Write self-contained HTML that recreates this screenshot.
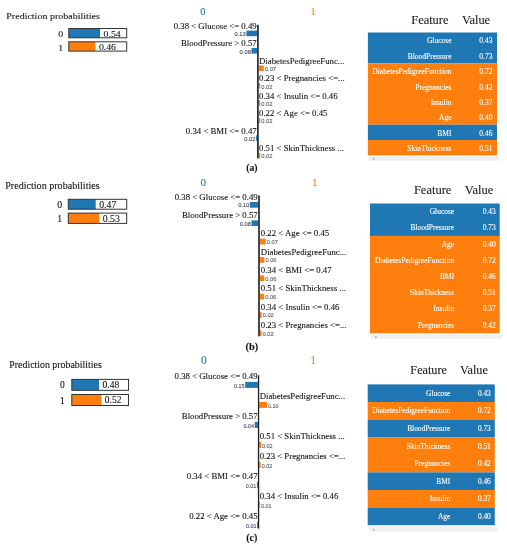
<!DOCTYPE html>
<html><head><meta charset="utf-8"><title>LIME explanations</title>
<style>
html,body{margin:0;padding:0;background:#fff;}
#c{position:relative;width:507px;height:550px;overflow:hidden;background:#fff;}
.t{position:absolute;white-space:pre;-webkit-text-stroke:0.1px currentColor;}
.r{position:absolute;}
.se{font-family:"Liberation Serif",serif;}
.sa{font-family:"Liberation Sans",sans-serif;}
</style></head><body><div id="c">
<svg width="507" height="550" viewBox="0 0 507 550" style="position:absolute;left:0;top:0">
<rect x="68.80" y="28.50" width="31.31" height="9.30" fill="#1f77b4"/>
<rect x="68.80" y="28.50" width="57.90" height="9.30" fill="none" stroke="#333" stroke-width="1"/>
<rect x="68.80" y="41.80" width="26.59" height="9.30" fill="#ff7f0e"/>
<rect x="68.80" y="41.80" width="57.90" height="9.30" fill="none" stroke="#333" stroke-width="1"/>
<rect x="246.40" y="30.60" width="10.70" height="5.60" fill="#1f77b4"/>
<rect x="251.50" y="48.04" width="5.60" height="5.60" fill="#1f77b4"/>
<rect x="258.70" y="65.48" width="5.10" height="5.60" fill="#ff7f0e"/>
<rect x="258.70" y="82.92" width="1.50" height="5.60" fill="#ff7f0e"/>
<rect x="258.70" y="100.36" width="1.50" height="5.60" fill="#ff7f0e"/>
<rect x="258.70" y="117.80" width="1.50" height="5.60" fill="#ff7f0e"/>
<rect x="256.10" y="135.24" width="1.00" height="5.60" fill="#1f77b4"/>
<rect x="258.70" y="152.68" width="1.50" height="5.60" fill="#ff7f0e"/>
<rect x="257.10" y="24.80" width="1.60" height="133.60" fill="#1c1c1c"/>
<rect x="368.70" y="156.60" width="130.50" height="4.20" fill="#efefef"/>
<rect x="367.90" y="32.50" width="129.10" height="30.73" fill="#1f77b4"/>
<rect x="367.90" y="63.23" width="129.10" height="61.45" fill="#ff7f0e"/>
<rect x="367.90" y="124.68" width="129.10" height="15.36" fill="#1f77b4"/>
<rect x="367.90" y="140.04" width="129.10" height="15.36" fill="#ff7f0e"/>
<rect x="373.20" y="158.40" width="1.20" height="1.30" fill="#888"/>
<rect x="68.30" y="199.30" width="27.42" height="9.90" fill="#1f77b4"/>
<rect x="68.30" y="199.30" width="58.40" height="9.90" fill="none" stroke="#333" stroke-width="1"/>
<rect x="68.30" y="213.10" width="30.98" height="10.30" fill="#ff7f0e"/>
<rect x="68.30" y="213.10" width="58.40" height="10.30" fill="none" stroke="#333" stroke-width="1"/>
<rect x="249.80" y="202.00" width="8.40" height="5.70" fill="#1f77b4"/>
<rect x="251.50" y="220.36" width="6.70" height="5.70" fill="#1f77b4"/>
<rect x="259.80" y="238.72" width="6.00" height="5.70" fill="#ff7f0e"/>
<rect x="259.80" y="257.08" width="4.60" height="5.70" fill="#ff7f0e"/>
<rect x="259.80" y="275.44" width="4.50" height="5.70" fill="#ff7f0e"/>
<rect x="259.80" y="293.80" width="4.40" height="5.70" fill="#ff7f0e"/>
<rect x="259.80" y="312.16" width="1.90" height="5.70" fill="#ff7f0e"/>
<rect x="259.80" y="330.52" width="1.70" height="5.70" fill="#ff7f0e"/>
<rect x="258.20" y="195.40" width="1.60" height="140.90" fill="#1c1c1c"/>
<rect x="370.80" y="334.60" width="131.10" height="4.20" fill="#efefef"/>
<rect x="370.00" y="203.50" width="129.70" height="32.45" fill="#1f77b4"/>
<rect x="370.00" y="235.95" width="129.70" height="97.35" fill="#ff7f0e"/>
<rect x="375.30" y="336.40" width="1.20" height="1.30" fill="#888"/>
<rect x="71.80" y="379.40" width="27.20" height="10.90" fill="#1f77b4"/>
<rect x="71.80" y="379.40" width="56.70" height="10.90" fill="none" stroke="#333" stroke-width="1"/>
<rect x="71.80" y="394.50" width="29.50" height="11.00" fill="#ff7f0e"/>
<rect x="71.80" y="394.50" width="56.70" height="11.00" fill="none" stroke="#333" stroke-width="1"/>
<rect x="245.20" y="381.90" width="12.70" height="6.00" fill="#1f77b4"/>
<rect x="259.20" y="401.90" width="7.90" height="6.00" fill="#ff7f0e"/>
<rect x="254.70" y="421.90" width="3.20" height="6.00" fill="#1f77b4"/>
<rect x="259.20" y="441.90" width="1.90" height="6.00" fill="#ff7f0e"/>
<rect x="259.20" y="461.90" width="1.50" height="6.00" fill="#ff7f0e"/>
<rect x="256.90" y="481.90" width="1.00" height="6.00" fill="#1f77b4"/>
<rect x="259.20" y="501.90" width="0.80" height="6.00" fill="#ff7f0e"/>
<rect x="257.10" y="521.90" width="0.80" height="6.00" fill="#1f77b4"/>
<rect x="257.90" y="375.30" width="1.30" height="153.30" fill="#1c1c1c"/>
<rect x="368.50" y="527.00" width="128.50" height="4.60" fill="#efefef"/>
<rect x="367.70" y="384.40" width="127.10" height="17.60" fill="#1f77b4"/>
<rect x="367.70" y="402.00" width="127.10" height="17.60" fill="#ff7f0e"/>
<rect x="367.70" y="419.60" width="127.10" height="17.60" fill="#1f77b4"/>
<rect x="367.70" y="437.20" width="127.10" height="35.20" fill="#ff7f0e"/>
<rect x="367.70" y="472.40" width="127.10" height="17.60" fill="#1f77b4"/>
<rect x="367.70" y="490.00" width="127.10" height="17.60" fill="#ff7f0e"/>
<rect x="367.70" y="507.60" width="127.10" height="17.60" fill="#1f77b4"/>
<rect x="373.00" y="529.00" width="1.20" height="1.30" fill="#888"/>
</svg>
<div class="t se" style="top:9.60px;font-size:10px;line-height:12.00px;color:#111;font-weight:normal;left:6.30px;transform-origin:0 50%;transform:scale(1.0,0.89);">Prediction probabilities</div>
<div class="t se" style="top:27.72px;font-size:9.8px;line-height:11.76px;color:#111;font-weight:normal;left:-39.40px;width:200px;text-align:center;transform-origin:50% 50%;transform:scale(1.0,0.9);">0</div>
<div class="t se" style="top:27.77px;font-size:9.8px;line-height:11.76px;color:#111;font-weight:normal;left:103.61px;transform-origin:0 50%;transform:scale(1.0,0.9);">0.54</div>
<div class="t se" style="top:41.62px;font-size:9.8px;line-height:11.76px;color:#111;font-weight:normal;left:-39.40px;width:200px;text-align:center;transform-origin:50% 50%;transform:scale(1.0,0.9);">1</div>
<div class="t se" style="top:41.07px;font-size:9.8px;line-height:11.76px;color:#111;font-weight:normal;left:98.89px;transform-origin:0 50%;transform:scale(1.0,0.9);">0.46</div>
<div class="t se" style="top:6.00px;font-size:10.5px;line-height:12.60px;color:#1f77b4;font-weight:normal;left:102.90px;width:200px;text-align:center;transform-origin:50% 50%;transform:scale(1.0,0.9450000000000001);">0</div>
<div class="t se" style="top:6.00px;font-size:10.5px;line-height:12.60px;color:#ff7f0e;font-weight:normal;left:213.10px;width:200px;text-align:center;transform-origin:50% 50%;transform:scale(1.0,0.9450000000000001);">1</div>
<div class="t se" style="top:20.93px;font-size:8.78px;line-height:10.54px;color:#111;font-weight:normal;right:250.30px;transform-origin:100% 50%;transform:scale(1.0,0.9);">0.38 &lt; Glucose &lt;= 0.49</div>
<div class="t sa" style="top:31.22px;font-size:5.8px;line-height:6.96px;color:#3f4658;font-weight:normal;right:261.20px;transform-origin:100% 50%;transform:scale(1.0,0.98);">0.13</div>
<div class="t se" style="top:38.37px;font-size:8.78px;line-height:10.54px;color:#111;font-weight:normal;right:250.30px;transform-origin:100% 50%;transform:scale(1.0,0.9);">BloodPressure &gt; 0.57</div>
<div class="t sa" style="top:48.66px;font-size:5.8px;line-height:6.96px;color:#3f4658;font-weight:normal;right:256.10px;transform-origin:100% 50%;transform:scale(1.0,0.98);">0.08</div>
<div class="t se" style="top:55.81px;font-size:8.78px;line-height:10.54px;color:#111;font-weight:normal;left:259.00px;transform-origin:0 50%;transform:scale(1.0,0.9);">DiabetesPedigreeFunc...</div>
<div class="t sa" style="top:66.10px;font-size:5.8px;line-height:6.96px;color:#555a66;font-weight:normal;left:264.80px;transform-origin:0 50%;transform:scale(1.0,0.98);">0.07</div>
<div class="t se" style="top:73.25px;font-size:8.78px;line-height:10.54px;color:#111;font-weight:normal;left:259.00px;transform-origin:0 50%;transform:scale(1.0,0.9);">0.23 &lt; Pregnancies &lt;=...</div>
<div class="t sa" style="top:83.54px;font-size:5.8px;line-height:6.96px;color:#555a66;font-weight:normal;left:261.20px;transform-origin:0 50%;transform:scale(1.0,0.98);">0.02</div>
<div class="t se" style="top:90.69px;font-size:8.78px;line-height:10.54px;color:#111;font-weight:normal;left:259.00px;transform-origin:0 50%;transform:scale(1.0,0.9);">0.34 &lt; Insulin &lt;= 0.46</div>
<div class="t sa" style="top:100.98px;font-size:5.8px;line-height:6.96px;color:#555a66;font-weight:normal;left:261.20px;transform-origin:0 50%;transform:scale(1.0,0.98);">0.02</div>
<div class="t se" style="top:108.13px;font-size:8.78px;line-height:10.54px;color:#111;font-weight:normal;left:259.00px;transform-origin:0 50%;transform:scale(1.0,0.9);">0.22 &lt; Age &lt;= 0.45</div>
<div class="t sa" style="top:118.42px;font-size:5.8px;line-height:6.96px;color:#555a66;font-weight:normal;left:261.20px;transform-origin:0 50%;transform:scale(1.0,0.98);">0.02</div>
<div class="t se" style="top:125.57px;font-size:8.78px;line-height:10.54px;color:#111;font-weight:normal;right:250.30px;transform-origin:100% 50%;transform:scale(1.0,0.9);">0.34 &lt; BMI &lt;= 0.47</div>
<div class="t sa" style="top:135.86px;font-size:5.8px;line-height:6.96px;color:#3f4658;font-weight:normal;right:251.50px;transform-origin:100% 50%;transform:scale(1.0,0.98);">0.02</div>
<div class="t se" style="top:143.01px;font-size:8.78px;line-height:10.54px;color:#111;font-weight:normal;left:259.00px;transform-origin:0 50%;transform:scale(1.0,0.9);">0.51 &lt; SkinThickness ...</div>
<div class="t sa" style="top:153.30px;font-size:5.8px;line-height:6.96px;color:#555a66;font-weight:normal;left:261.20px;transform-origin:0 50%;transform:scale(1.0,0.98);">0.02</div>
<div class="t se" style="top:162.34px;font-size:9.6px;line-height:11.52px;color:#111;font-weight:bold;left:151.80px;width:200px;text-align:center;transform-origin:50% 50%;">(a)</div>
<div class="t se" style="top:12.56px;font-size:12.4px;line-height:14.88px;color:#1a1a1a;font-weight:normal;right:58.60px;transform-origin:100% 50%;">Feature</div>
<div class="t se" style="top:12.56px;font-size:12.4px;line-height:14.88px;color:#1a1a1a;font-weight:normal;right:16.90px;transform-origin:100% 50%;">Value</div>
<div class="t se" style="top:36.48px;font-size:7.5px;line-height:9.00px;color:#fff;font-weight:normal;right:55.50px;transform-origin:100% 50%;">Glucose</div>
<div class="t se" style="top:36.48px;font-size:7.5px;line-height:9.00px;color:#fff;font-weight:normal;right:14.60px;transform-origin:100% 50%;">0.43</div>
<div class="t se" style="top:51.84px;font-size:7.5px;line-height:9.00px;color:#fff;font-weight:normal;right:55.50px;transform-origin:100% 50%;">BloodPressure</div>
<div class="t se" style="top:51.84px;font-size:7.5px;line-height:9.00px;color:#fff;font-weight:normal;right:14.60px;transform-origin:100% 50%;">0.73</div>
<div class="t se" style="top:67.21px;font-size:7.5px;line-height:9.00px;color:#fff;font-weight:normal;right:55.50px;transform-origin:100% 50%;">DiabetesPedigreeFunction</div>
<div class="t se" style="top:67.21px;font-size:7.5px;line-height:9.00px;color:#fff;font-weight:normal;right:14.60px;transform-origin:100% 50%;">0.72</div>
<div class="t se" style="top:82.57px;font-size:7.5px;line-height:9.00px;color:#fff;font-weight:normal;right:55.50px;transform-origin:100% 50%;">Pregnancies</div>
<div class="t se" style="top:82.57px;font-size:7.5px;line-height:9.00px;color:#fff;font-weight:normal;right:14.60px;transform-origin:100% 50%;">0.42</div>
<div class="t se" style="top:97.93px;font-size:7.5px;line-height:9.00px;color:#fff;font-weight:normal;right:55.50px;transform-origin:100% 50%;">Insulin</div>
<div class="t se" style="top:97.93px;font-size:7.5px;line-height:9.00px;color:#fff;font-weight:normal;right:14.60px;transform-origin:100% 50%;">0.37</div>
<div class="t se" style="top:113.29px;font-size:7.5px;line-height:9.00px;color:#fff;font-weight:normal;right:55.50px;transform-origin:100% 50%;">Age</div>
<div class="t se" style="top:113.29px;font-size:7.5px;line-height:9.00px;color:#fff;font-weight:normal;right:14.60px;transform-origin:100% 50%;">0.40</div>
<div class="t se" style="top:128.66px;font-size:7.5px;line-height:9.00px;color:#fff;font-weight:normal;right:55.50px;transform-origin:100% 50%;">BMI</div>
<div class="t se" style="top:128.66px;font-size:7.5px;line-height:9.00px;color:#fff;font-weight:normal;right:14.60px;transform-origin:100% 50%;">0.46</div>
<div class="t se" style="top:144.02px;font-size:7.5px;line-height:9.00px;color:#fff;font-weight:normal;right:55.50px;transform-origin:100% 50%;">SkinThickness</div>
<div class="t se" style="top:144.02px;font-size:7.5px;line-height:9.00px;color:#fff;font-weight:normal;right:14.60px;transform-origin:100% 50%;">0.51</div>
<div class="t se" style="top:179.74px;font-size:10.1px;line-height:12.12px;color:#111;font-weight:normal;left:5.20px;transform-origin:0 50%;transform:scale(1.0,0.95);">Prediction probabilities</div>
<div class="t se" style="top:198.72px;font-size:9.8px;line-height:11.76px;color:#111;font-weight:normal;left:-40.20px;width:200px;text-align:center;transform-origin:50% 50%;transform:scale(1.0,0.95);">0</div>
<div class="t se" style="top:198.87px;font-size:9.8px;line-height:11.76px;color:#111;font-weight:normal;left:99.22px;transform-origin:0 50%;transform:scale(1.0,0.95);">0.47</div>
<div class="t se" style="top:212.92px;font-size:9.8px;line-height:11.76px;color:#111;font-weight:normal;left:-40.20px;width:200px;text-align:center;transform-origin:50% 50%;transform:scale(1.0,0.95);">1</div>
<div class="t se" style="top:212.87px;font-size:9.8px;line-height:11.76px;color:#111;font-weight:normal;left:102.78px;transform-origin:0 50%;transform:scale(1.0,0.95);">0.53</div>
<div class="t se" style="top:176.00px;font-size:11px;line-height:13.20px;color:#1f77b4;font-weight:normal;left:103.30px;width:200px;text-align:center;transform-origin:50% 50%;transform:scale(1.0,0.9974999999999999);">0</div>
<div class="t se" style="top:176.00px;font-size:11px;line-height:13.20px;color:#ff7f0e;font-weight:normal;left:214.70px;width:200px;text-align:center;transform-origin:50% 50%;transform:scale(1.0,0.9974999999999999);">1</div>
<div class="t se" style="top:191.53px;font-size:8.78px;line-height:10.54px;color:#111;font-weight:normal;right:249.30px;transform-origin:100% 50%;transform:scale(1.0,0.95);">0.38 &lt; Glucose &lt;= 0.49</div>
<div class="t sa" style="top:202.28px;font-size:5.7px;line-height:6.84px;color:#3f4658;font-weight:normal;right:257.80px;transform-origin:100% 50%;transform:scale(1.0,1.02);">0.10</div>
<div class="t se" style="top:209.89px;font-size:8.78px;line-height:10.54px;color:#111;font-weight:normal;right:249.30px;transform-origin:100% 50%;transform:scale(1.0,0.95);">BloodPressure &gt; 0.57</div>
<div class="t sa" style="top:220.64px;font-size:5.7px;line-height:6.84px;color:#3f4658;font-weight:normal;right:256.10px;transform-origin:100% 50%;transform:scale(1.0,1.02);">0.08</div>
<div class="t se" style="top:228.25px;font-size:8.78px;line-height:10.54px;color:#111;font-weight:normal;left:260.80px;transform-origin:0 50%;transform:scale(1.0,0.95);">0.22 &lt; Age &lt;= 0.45</div>
<div class="t sa" style="top:239.00px;font-size:5.7px;line-height:6.84px;color:#555a66;font-weight:normal;left:266.80px;transform-origin:0 50%;transform:scale(1.0,1.02);">0.07</div>
<div class="t se" style="top:246.61px;font-size:8.78px;line-height:10.54px;color:#111;font-weight:normal;left:260.80px;transform-origin:0 50%;transform:scale(1.0,0.95);">DiabetesPedigreeFunc...</div>
<div class="t sa" style="top:257.36px;font-size:5.7px;line-height:6.84px;color:#555a66;font-weight:normal;left:265.40px;transform-origin:0 50%;transform:scale(1.0,1.02);">0.06</div>
<div class="t se" style="top:264.97px;font-size:8.78px;line-height:10.54px;color:#111;font-weight:normal;left:260.80px;transform-origin:0 50%;transform:scale(1.0,0.95);">0.34 &lt; BMI &lt;= 0.47</div>
<div class="t sa" style="top:275.72px;font-size:5.7px;line-height:6.84px;color:#555a66;font-weight:normal;left:265.30px;transform-origin:0 50%;transform:scale(1.0,1.02);">0.06</div>
<div class="t se" style="top:283.33px;font-size:8.78px;line-height:10.54px;color:#111;font-weight:normal;left:260.80px;transform-origin:0 50%;transform:scale(1.0,0.95);">0.51 &lt; SkinThickness ...</div>
<div class="t sa" style="top:294.08px;font-size:5.7px;line-height:6.84px;color:#555a66;font-weight:normal;left:265.20px;transform-origin:0 50%;transform:scale(1.0,1.02);">0.06</div>
<div class="t se" style="top:301.69px;font-size:8.78px;line-height:10.54px;color:#111;font-weight:normal;left:260.80px;transform-origin:0 50%;transform:scale(1.0,0.95);">0.34 &lt; Insulin &lt;= 0.46</div>
<div class="t sa" style="top:312.44px;font-size:5.7px;line-height:6.84px;color:#555a66;font-weight:normal;left:262.70px;transform-origin:0 50%;transform:scale(1.0,1.02);">0.02</div>
<div class="t se" style="top:320.05px;font-size:8.78px;line-height:10.54px;color:#111;font-weight:normal;left:260.80px;transform-origin:0 50%;transform:scale(1.0,0.95);">0.23 &lt; Pregnancies &lt;=...</div>
<div class="t sa" style="top:330.80px;font-size:5.7px;line-height:6.84px;color:#555a66;font-weight:normal;left:262.50px;transform-origin:0 50%;transform:scale(1.0,1.02);">0.02</div>
<div class="t se" style="top:341.26px;font-size:10.4px;line-height:12.48px;color:#111;font-weight:bold;left:151.85px;width:200px;text-align:center;transform-origin:50% 50%;">(b)</div>
<div class="t se" style="top:183.00px;font-size:12.5px;line-height:15.00px;color:#1a1a1a;font-weight:normal;right:55.60px;transform-origin:100% 50%;transform:scale(1.0,1.03);">Feature</div>
<div class="t se" style="top:183.00px;font-size:12.5px;line-height:15.00px;color:#1a1a1a;font-weight:normal;right:13.80px;transform-origin:100% 50%;transform:scale(1.0,1.03);">Value</div>
<div class="t se" style="top:207.11px;font-size:7.5px;line-height:9.00px;color:#fff;font-weight:normal;right:52.80px;transform-origin:100% 50%;">Glucose</div>
<div class="t se" style="top:207.11px;font-size:7.5px;line-height:9.00px;color:#fff;font-weight:normal;right:11.20px;transform-origin:100% 50%;">0.43</div>
<div class="t se" style="top:223.34px;font-size:7.5px;line-height:9.00px;color:#fff;font-weight:normal;right:52.80px;transform-origin:100% 50%;">BloodPressure</div>
<div class="t se" style="top:223.34px;font-size:7.5px;line-height:9.00px;color:#fff;font-weight:normal;right:11.20px;transform-origin:100% 50%;">0.73</div>
<div class="t se" style="top:239.56px;font-size:7.5px;line-height:9.00px;color:#fff;font-weight:normal;right:52.80px;transform-origin:100% 50%;">Age</div>
<div class="t se" style="top:239.56px;font-size:7.5px;line-height:9.00px;color:#fff;font-weight:normal;right:11.20px;transform-origin:100% 50%;">0.40</div>
<div class="t se" style="top:255.79px;font-size:7.5px;line-height:9.00px;color:#fff;font-weight:normal;right:52.80px;transform-origin:100% 50%;">DiabetesPedigreeFunction</div>
<div class="t se" style="top:255.79px;font-size:7.5px;line-height:9.00px;color:#fff;font-weight:normal;right:11.20px;transform-origin:100% 50%;">0.72</div>
<div class="t se" style="top:272.01px;font-size:7.5px;line-height:9.00px;color:#fff;font-weight:normal;right:52.80px;transform-origin:100% 50%;">BMI</div>
<div class="t se" style="top:272.01px;font-size:7.5px;line-height:9.00px;color:#fff;font-weight:normal;right:11.20px;transform-origin:100% 50%;">0.46</div>
<div class="t se" style="top:288.24px;font-size:7.5px;line-height:9.00px;color:#fff;font-weight:normal;right:52.80px;transform-origin:100% 50%;">SkinThickness</div>
<div class="t se" style="top:288.24px;font-size:7.5px;line-height:9.00px;color:#fff;font-weight:normal;right:11.20px;transform-origin:100% 50%;">0.51</div>
<div class="t se" style="top:304.46px;font-size:7.5px;line-height:9.00px;color:#fff;font-weight:normal;right:52.80px;transform-origin:100% 50%;">Insulin</div>
<div class="t se" style="top:304.46px;font-size:7.5px;line-height:9.00px;color:#fff;font-weight:normal;right:11.20px;transform-origin:100% 50%;">0.37</div>
<div class="t se" style="top:320.69px;font-size:7.5px;line-height:9.00px;color:#fff;font-weight:normal;right:52.80px;transform-origin:100% 50%;">Pregnancies</div>
<div class="t se" style="top:320.69px;font-size:7.5px;line-height:9.00px;color:#fff;font-weight:normal;right:11.20px;transform-origin:100% 50%;">0.42</div>
<div class="t se" style="top:358.76px;font-size:9.9px;line-height:11.88px;color:#111;font-weight:normal;left:9.30px;transform-origin:0 50%;transform:scale(1.0,1.07);">Prediction probabilities</div>
<div class="t se" style="top:380.30px;font-size:9.5px;line-height:11.40px;color:#111;font-weight:normal;left:-37.60px;width:200px;text-align:center;transform-origin:50% 50%;transform:scale(1.0,1.1);">0</div>
<div class="t se" style="top:379.65px;font-size:9.5px;line-height:11.40px;color:#111;font-weight:normal;left:102.50px;transform-origin:0 50%;transform:scale(1.0,1.1);">0.48</div>
<div class="t se" style="top:395.70px;font-size:9.5px;line-height:11.40px;color:#111;font-weight:normal;left:-37.60px;width:200px;text-align:center;transform-origin:50% 50%;transform:scale(1.0,1.1);">1</div>
<div class="t se" style="top:394.80px;font-size:9.5px;line-height:11.40px;color:#111;font-weight:normal;left:104.80px;transform-origin:0 50%;transform:scale(1.0,1.1);">0.52</div>
<div class="t se" style="top:353.70px;font-size:11.5px;line-height:13.80px;color:#1f77b4;font-weight:normal;left:103.90px;width:200px;text-align:center;transform-origin:50% 50%;transform:scale(1.0,1.05);">0</div>
<div class="t se" style="top:353.70px;font-size:11.5px;line-height:13.80px;color:#ff7f0e;font-weight:normal;left:213.10px;width:200px;text-align:center;transform-origin:50% 50%;transform:scale(1.0,1.05);">1</div>
<div class="t se" style="top:370.93px;font-size:8.78px;line-height:10.54px;color:#111;font-weight:normal;right:249.40px;transform-origin:100% 50%;">0.38 &lt; Glucose &lt;= 0.49</div>
<div class="t sa" style="top:382.86px;font-size:5.4px;line-height:6.48px;color:#3f4658;font-weight:normal;right:262.40px;transform-origin:100% 50%;transform:scale(1.0,1.12);">0.15</div>
<div class="t se" style="top:390.93px;font-size:8.78px;line-height:10.54px;color:#111;font-weight:normal;left:259.70px;transform-origin:0 50%;">DiabetesPedigreeFunc...</div>
<div class="t sa" style="top:402.86px;font-size:5.4px;line-height:6.48px;color:#555a66;font-weight:normal;left:268.10px;transform-origin:0 50%;transform:scale(1.0,1.12);">0.10</div>
<div class="t se" style="top:410.93px;font-size:8.78px;line-height:10.54px;color:#111;font-weight:normal;right:249.40px;transform-origin:100% 50%;">BloodPressure &gt; 0.57</div>
<div class="t sa" style="top:422.86px;font-size:5.4px;line-height:6.48px;color:#3f4658;font-weight:normal;right:252.90px;transform-origin:100% 50%;transform:scale(1.0,1.12);">0.04</div>
<div class="t se" style="top:430.93px;font-size:8.78px;line-height:10.54px;color:#111;font-weight:normal;left:259.70px;transform-origin:0 50%;">0.51 &lt; SkinThickness ...</div>
<div class="t sa" style="top:442.86px;font-size:5.4px;line-height:6.48px;color:#555a66;font-weight:normal;left:262.10px;transform-origin:0 50%;transform:scale(1.0,1.12);">0.02</div>
<div class="t se" style="top:450.93px;font-size:8.78px;line-height:10.54px;color:#111;font-weight:normal;left:259.70px;transform-origin:0 50%;">0.23 &lt; Pregnancies &lt;=...</div>
<div class="t sa" style="top:462.86px;font-size:5.4px;line-height:6.48px;color:#555a66;font-weight:normal;left:261.70px;transform-origin:0 50%;transform:scale(1.0,1.12);">0.02</div>
<div class="t se" style="top:470.93px;font-size:8.78px;line-height:10.54px;color:#111;font-weight:normal;right:249.40px;transform-origin:100% 50%;">0.34 &lt; BMI &lt;= 0.47</div>
<div class="t sa" style="top:482.86px;font-size:5.4px;line-height:6.48px;color:#3f4658;font-weight:normal;right:250.70px;transform-origin:100% 50%;transform:scale(1.0,1.12);">0.01</div>
<div class="t se" style="top:490.93px;font-size:8.78px;line-height:10.54px;color:#111;font-weight:normal;left:259.70px;transform-origin:0 50%;">0.34 &lt; Insulin &lt;= 0.46</div>
<div class="t sa" style="top:502.86px;font-size:5.4px;line-height:6.48px;color:#555a66;font-weight:normal;left:261.00px;transform-origin:0 50%;transform:scale(1.0,1.12);">0.01</div>
<div class="t se" style="top:510.93px;font-size:8.78px;line-height:10.54px;color:#111;font-weight:normal;right:249.40px;transform-origin:100% 50%;">0.22 &lt; Age &lt;= 0.45</div>
<div class="t sa" style="top:522.86px;font-size:5.4px;line-height:6.48px;color:#3f4658;font-weight:normal;right:250.50px;transform-origin:100% 50%;transform:scale(1.0,1.12);">0.01</div>
<div class="t se" style="top:532.40px;font-size:10.0px;line-height:12.00px;color:#111;font-weight:bold;left:151.85px;width:200px;text-align:center;transform-origin:50% 50%;">(c)</div>
<div class="t se" style="top:363.28px;font-size:12.2px;line-height:14.64px;color:#1a1a1a;font-weight:normal;right:60.10px;transform-origin:100% 50%;transform:scale(1.0,1.09);">Feature</div>
<div class="t se" style="top:363.28px;font-size:12.2px;line-height:14.64px;color:#1a1a1a;font-weight:normal;right:19.20px;transform-origin:100% 50%;transform:scale(1.0,1.09);">Value</div>
<div class="t se" style="top:389.76px;font-size:7.4px;line-height:8.88px;color:#fff;font-weight:normal;right:56.70px;transform-origin:100% 50%;transform:scale(1.0,1.08);">Glucose</div>
<div class="t se" style="top:389.76px;font-size:7.4px;line-height:8.88px;color:#fff;font-weight:normal;right:16.20px;transform-origin:100% 50%;transform:scale(1.0,1.08);">0.43</div>
<div class="t se" style="top:407.36px;font-size:7.4px;line-height:8.88px;color:#fff;font-weight:normal;right:56.70px;transform-origin:100% 50%;transform:scale(1.0,1.08);">DiabetesPedigreeFunction</div>
<div class="t se" style="top:407.36px;font-size:7.4px;line-height:8.88px;color:#fff;font-weight:normal;right:16.20px;transform-origin:100% 50%;transform:scale(1.0,1.08);">0.72</div>
<div class="t se" style="top:424.96px;font-size:7.4px;line-height:8.88px;color:#fff;font-weight:normal;right:56.70px;transform-origin:100% 50%;transform:scale(1.0,1.08);">BloodPressure</div>
<div class="t se" style="top:424.96px;font-size:7.4px;line-height:8.88px;color:#fff;font-weight:normal;right:16.20px;transform-origin:100% 50%;transform:scale(1.0,1.08);">0.73</div>
<div class="t se" style="top:442.56px;font-size:7.4px;line-height:8.88px;color:#fff;font-weight:normal;right:56.70px;transform-origin:100% 50%;transform:scale(1.0,1.08);">SkinThickness</div>
<div class="t se" style="top:442.56px;font-size:7.4px;line-height:8.88px;color:#fff;font-weight:normal;right:16.20px;transform-origin:100% 50%;transform:scale(1.0,1.08);">0.51</div>
<div class="t se" style="top:460.16px;font-size:7.4px;line-height:8.88px;color:#fff;font-weight:normal;right:56.70px;transform-origin:100% 50%;transform:scale(1.0,1.08);">Pregnancies</div>
<div class="t se" style="top:460.16px;font-size:7.4px;line-height:8.88px;color:#fff;font-weight:normal;right:16.20px;transform-origin:100% 50%;transform:scale(1.0,1.08);">0.42</div>
<div class="t se" style="top:477.76px;font-size:7.4px;line-height:8.88px;color:#fff;font-weight:normal;right:56.70px;transform-origin:100% 50%;transform:scale(1.0,1.08);">BMI</div>
<div class="t se" style="top:477.76px;font-size:7.4px;line-height:8.88px;color:#fff;font-weight:normal;right:16.20px;transform-origin:100% 50%;transform:scale(1.0,1.08);">0.46</div>
<div class="t se" style="top:495.36px;font-size:7.4px;line-height:8.88px;color:#fff;font-weight:normal;right:56.70px;transform-origin:100% 50%;transform:scale(1.0,1.08);">Insulin</div>
<div class="t se" style="top:495.36px;font-size:7.4px;line-height:8.88px;color:#fff;font-weight:normal;right:16.20px;transform-origin:100% 50%;transform:scale(1.0,1.08);">0.37</div>
<div class="t se" style="top:512.96px;font-size:7.4px;line-height:8.88px;color:#fff;font-weight:normal;right:56.70px;transform-origin:100% 50%;transform:scale(1.0,1.08);">Age</div>
<div class="t se" style="top:512.96px;font-size:7.4px;line-height:8.88px;color:#fff;font-weight:normal;right:16.20px;transform-origin:100% 50%;transform:scale(1.0,1.08);">0.40</div>
</div></body></html>
